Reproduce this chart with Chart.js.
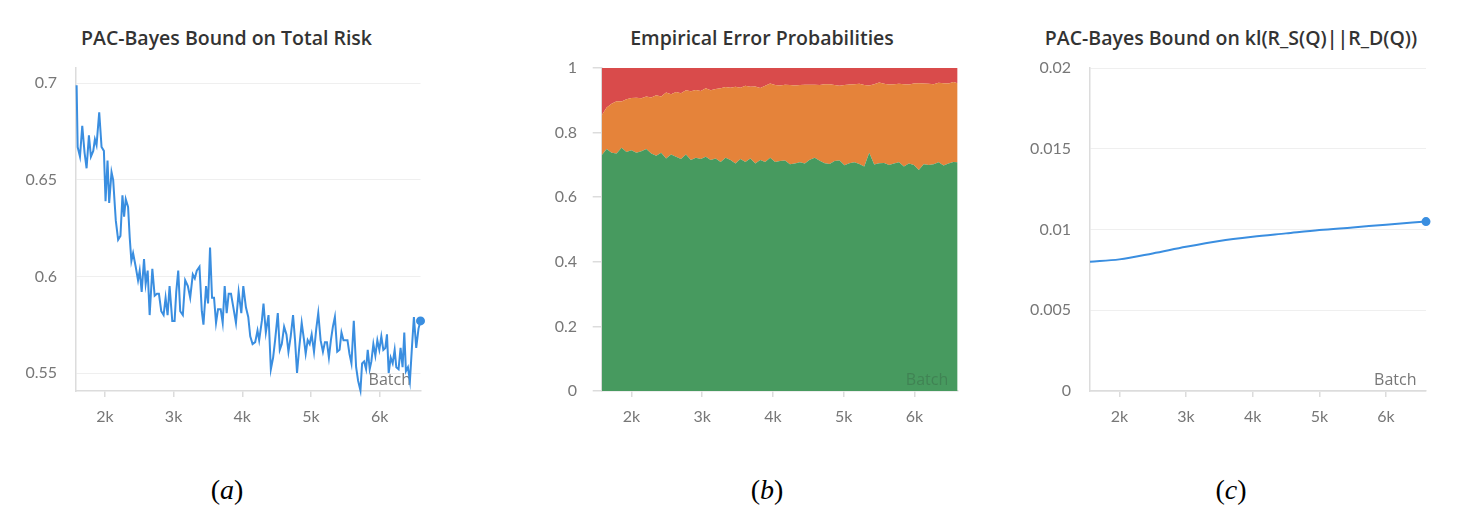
<!DOCTYPE html>
<html><head><meta charset="utf-8">
<script src="https://cdn.jsdelivr.net/npm/chart.js@4.4.1/dist/chart.umd.min.js"></script>
<style>
html,body{margin:0;padding:0;background:#fff;width:1461px;height:505px;overflow:hidden;}
.box{position:absolute;}
.ttl{position:absolute;top:26px;height:24px;line-height:24px;font-family:"Open Sans","Noto Sans",sans-serif;font-weight:600;font-size:19.5px;color:#333;transform:translateX(-50%);white-space:nowrap;}
.cap{position:absolute;top:474px;height:32px;line-height:32px;font-family:"Liberation Serif","DejaVu Serif",serif;font-size:28px;color:#000;transform:translateX(-50%);white-space:nowrap;}
.cap i{font-style:italic;}
</style></head><body>
<div class="ttl" id="ta" style="left:226.5px"></div>
<div class="ttl" id="tb" style="left:762px"></div>
<div class="ttl" id="tc" style="left:1231px"></div>
<div class="box" style="left:20px;top:15px;width:406px;height:421px"><canvas id="ca"></canvas></div>
<div class="box" style="left:545px;top:15px;width:420px;height:421px"><canvas id="cb"></canvas></div>
<div class="box" style="left:1015px;top:15px;width:417px;height:421px"><canvas id="cc"></canvas></div>
<div class="cap" style="left:227px">(<i>a</i>)</div>
<div class="cap" style="left:767px">(<i>b</i>)</div>
<div class="cap" style="left:1231px">(<i>c</i>)</div>
<script>
// ---------- data ----------
const titleA = "PAC-Bayes Bound on Total Risk";
const titleB = "Empirical Error Probabilities";
const titleC = "PAC-Bayes Bound on kl(R_S(Q)||R_D(Q))";
const xTicks = [2000, 3000, 4000, 5000, 6000];

const batchA = [1589,1604,1638,1671,1705,1734,1768,1797,1831,1855,
1879,1918,1952,1986,2010,2039,2063,2097,2121,2159,
2193,2227,2256,2280,2304,2338,2362,2386,2411,2449,
2483,2507,2536,2570,2594,2623,2652,2691,2725,2758,
2787,2821,2855,2884,2913,2942,2981,3015,3039,3068,
3097,3135,3169,3208,3242,3280,3309,3338,3377,3411,
3435,3473,3502,3531,3560,3589,3618,3647,3686,3715,
3744,3773,3802,3836,3870,3908,3947,3986,4015,4053,
4087,4116,4150,4188,4222,4246,4285,4309,4343,4382,
4416,4449,4478,4517,4546,4575,4609,4643,4672,4705,
4739,4768,4797,4826,4865,4899,4923,4952,4981,5010,
5044,5077,5106,5140,5174,5203,5232,5261,5290,5319,
5348,5382,5416,5444,5473,5502,5531,5560,5589,5623,
5657,5686,5720,5744,5773,5802,5826,5855,5879,5908,
5937,5966,5995,6024,6053,6082,6106,6131,6160,6189,
6218,6242,6275,6304,6333,6358,6382,6411,6440,6469,
6498,6532,6565,6594];
const riskA = [0.699,0.667,0.662,0.678,0.664,0.656,0.673,0.662,0.665,0.671,
0.668,0.685,0.667,0.665,0.639,0.660,0.638,0.654,0.650,0.629,
0.619,0.621,0.642,0.631,0.640,0.636,0.620,0.608,0.612,0.605,
0.598,0.603,0.592,0.609,0.596,0.603,0.580,0.604,0.590,0.591,
0.591,0.582,0.580,0.589,0.580,0.595,0.577,0.577,0.592,0.603,
0.582,0.580,0.598,0.595,0.589,0.601,0.599,0.603,0.605,0.582,
0.575,0.595,0.586,0.615,0.589,0.589,0.576,0.583,0.583,0.576,
0.595,0.581,0.591,0.591,0.584,0.576,0.592,0.581,0.595,0.584,
0.579,0.569,0.565,0.566,0.572,0.567,0.577,0.586,0.571,0.580,
0.552,0.558,0.567,0.581,0.562,0.565,0.574,0.570,0.561,0.569,
0.580,0.567,0.550,0.562,0.576,0.567,0.560,0.567,0.565,0.570,
0.561,0.573,0.581,0.567,0.561,0.566,0.566,0.558,0.567,0.574,
0.579,0.561,0.562,0.571,0.567,0.567,0.567,0.560,0.555,0.577,
0.553,0.546,0.541,0.555,0.556,0.552,0.562,0.552,0.556,0.565,
0.559,0.567,0.562,0.569,0.562,0.563,0.570,0.550,0.558,0.555,
0.562,0.553,0.552,0.563,0.553,0.571,0.551,0.553,0.546,0.563,
0.579,0.563,0.573,0.577];
const yTicksA = [0.55, 0.6, 0.65, 0.7];

const batchB = [1580,1650,1720,1790,1860,1930,2000,2070,2140,2210,
2280,2350,2420,2490,2560,2630,2700,2770,2840,2910,
2980,3050,3120,3190,3260,3330,3400,3470,3540,3610,
3680,3750,3820,3890,3960,4030,4100,4170,4240,4310,
4380,4450,4520,4590,4660,4730,4800,4870,4940,5010,
5080,5150,5220,5290,5360,5430,5500,5570,5640,5710,
5780,5850,5920,5990,6060,6130,6200,6270,6340,6410,
6480,6550,6610];
const probGreen = [0.730,0.749,0.738,0.735,0.753,0.740,0.745,0.738,0.742,0.749,
0.735,0.728,0.738,0.720,0.732,0.725,0.718,0.732,0.715,0.722,
0.718,0.725,0.715,0.720,0.709,0.722,0.715,0.704,0.718,0.709,
0.720,0.704,0.715,0.709,0.722,0.709,0.712,0.714,0.702,0.704,
0.708,0.704,0.716,0.722,0.713,0.705,0.703,0.712,0.714,0.699,
0.705,0.708,0.703,0.695,0.738,0.701,0.705,0.706,0.700,0.704,
0.708,0.695,0.704,0.700,0.684,0.702,0.700,0.702,0.708,0.698,
0.704,0.709,0.708];
const probOrange = [0.124,0.129,0.151,0.162,0.143,0.163,0.162,0.170,0.164,0.163,
0.174,0.188,0.174,0.204,0.187,0.201,0.204,0.199,0.213,0.210,
0.211,0.212,0.216,0.215,0.228,0.219,0.224,0.238,0.221,0.236,
0.222,0.239,0.223,0.236,0.230,0.238,0.234,0.234,0.245,0.242,
0.239,0.244,0.232,0.226,0.234,0.245,0.247,0.235,0.231,0.248,
0.244,0.242,0.248,0.252,0.208,0.249,0.250,0.245,0.249,0.246,
0.243,0.255,0.245,0.252,0.269,0.250,0.251,0.248,0.246,0.255,
0.248,0.248,0.245];
const probRed = [0.146,0.122,0.111,0.103,0.104,0.097,0.093,0.092,0.094,0.088,
0.091,0.084,0.088,0.076,0.081,0.074,0.078,0.069,0.072,0.068,
0.071,0.063,0.069,0.065,0.063,0.059,0.061,0.058,0.061,0.055,
0.058,0.057,0.062,0.055,0.048,0.053,0.054,0.052,0.053,0.054,
0.053,0.052,0.052,0.052,0.053,0.050,0.050,0.053,0.055,0.053,
0.051,0.050,0.049,0.053,0.054,0.050,0.045,0.049,0.051,0.050,
0.049,0.050,0.051,0.048,0.047,0.048,0.049,0.050,0.046,0.047,
0.048,0.043,0.047];
const yTicksB = [0, 0.2, 0.4, 0.6, 0.8, 1];

const batchC = [1560,2000,2500,3000,3500,4000,4500,5000,5500,6000,6600];
const klC = [0.00800,0.00815,0.00852,0.00893,0.00929,0.00955,0.00976,0.00997,0.01013,0.01030,0.01049];
const yTicksC = [0, 0.005, 0.01, 0.015, 0.02];

document.getElementById('ta').textContent = titleA;
document.getElementById('tb').textContent = titleB;
document.getElementById('tc').textContent = titleC;

// ---------- styling helpers ----------
const FONT = "Lato, 'Noto Sans', sans-serif";
const tickFont = {family: FONT, size: 16};
const tickColor = '#777';
const axisColor = '#dcdcdc';
const BLUE = '#3a8ee0';

const batchLabel = {
  id: 'batchLabel',
  beforeDatasetsDraw(chart, args, o) { if (!o.after) draw(chart, o); },
  afterDatasetsDraw(chart, args, o) { if (o.after) draw(chart, o); }
};
function draw(chart, o) {
  const {ctx, chartArea} = chart;
  ctx.save();
  ctx.font = "16px 'Open Sans', 'Noto Sans', sans-serif";
  ctx.fillStyle = o.color || '#777';
  ctx.textAlign = 'right';
  ctx.textBaseline = 'alphabetic';
  ctx.fillText('Batch', chartArea.right - 9.5, chartArea.bottom - 6);
  ctx.restore();
}
Chart.register(batchLabel);

function fixTicks(list) { return s => { s.ticks = list.map(v => ({value: v})); }; }

function xScale(min, max) {
  return {
    type: 'linear', min, max,
    afterBuildTicks: fixTicks(xTicks),
    afterFit: s => { s.height = 45; },
    ticks: {font: tickFont, color: tickColor, padding: 10, maxRotation: 0, autoSkip: false,
            callback: v => (v / 1000) + 'k'},
    grid: {drawOnChartArea: false, drawTicks: true, tickLength: 6, color: axisColor, lineWidth: 1.5},
    border: {color: axisColor, width: 1.5}
  };
}
function yScale(min, max, list, width, opts) {
  return Object.assign({
    min, max,
    afterBuildTicks: fixTicks(list),
    afterFit: s => { s.width = width; },
    ticks: {font: tickFont, color: tickColor, padding: 19, callback: v => String(v)},
    grid: {color: '#efefef', drawTicks: false, lineWidth: 1},
    border: {color: axisColor, width: 1.5}
  }, opts || {});
}
const baseLayout = (right) => ({padding: {left: 0, right, top: 53, bottom: 0}});
const pts = (xs, ys) => xs.map((x, i) => ({x, y: ys[i]}));

// ---------- chart (a) ----------
new Chart(document.getElementById('ca'), {
  type: 'line',
  data: {datasets: [{
    label: titleA,
    data: pts(batchA, riskA), borderColor: BLUE, backgroundColor: BLUE, borderWidth: 2,
    tension: 0, clip: false,
    pointRadius: c => c.dataIndex === batchA.length - 1 ? 3.5 : 0, pointHoverRadius: 0
  }]},
  options: {
    responsive: true, maintainAspectRatio: false, animation: false,
    layout: baseLayout(4),
    plugins: {legend: {display: false}, tooltip: {enabled: false},
              batchLabel: {color: '#777'}},
    scales: {x: xScale(1580, 6594), y: yScale(0.5407, 0.7079, yTicksA, 56)}
  }
});

// ---------- chart (b) ----------
new Chart(document.getElementById('cb'), {
  type: 'line',
  data: {datasets: [
    {label: 'green', data: pts(batchB, probGreen), borderWidth: 0, pointRadius: 0, fill: 'origin',
     backgroundColor: '#479a5f', borderColor: '#479a5f'},
    {label: 'orange', data: pts(batchB, probOrange), borderWidth: 0, pointRadius: 0, fill: '-1',
     backgroundColor: '#e5833a', borderColor: '#e5833a'},
    {label: 'red', data: pts(batchB, probRed), borderWidth: 0, pointRadius: 0, fill: '-1',
     backgroundColor: '#d94b4b', borderColor: '#d94b4b'}
  ]},
  options: {
    responsive: true, maintainAspectRatio: false, animation: false,
    layout: baseLayout(7.3),
    plugins: {legend: {display: false}, tooltip: {enabled: false},
              batchLabel: {color: 'rgba(40,40,40,0.2)', after: true}},
    scales: {
      x: xScale(1580, 6610),
      y: yScale(0, 1, yTicksB, 56.7, {
        stacked: true,
        grid: {drawOnChartArea: false, drawTicks: true, tickLength: 9, color: axisColor, lineWidth: 1.5},
        ticks: {font: tickFont, color: tickColor, padding: 15.7, callback: v => String(v)}
      })
    }
  }
});

// ---------- chart (c) ----------
new Chart(document.getElementById('cc'), {
  type: 'line',
  data: {datasets: [{
    label: titleC,
    data: pts(batchC, klC), borderColor: BLUE, backgroundColor: BLUE, borderWidth: 2,
    cubicInterpolationMode: 'monotone', clip: false,
    pointRadius: c => c.dataIndex === batchC.length - 1 ? 3.5 : 0, pointHoverRadius: 0
  }]},
  options: {
    responsive: true, maintainAspectRatio: false, animation: false,
    layout: baseLayout(6),
    plugins: {legend: {display: false}, tooltip: {enabled: false},
              batchLabel: {color: '#777'}},
    scales: {x: xScale(1560, 6600), y: yScale(0, 0.02, yTicksC, 75)}
  }
});
</script>
</body></html>
